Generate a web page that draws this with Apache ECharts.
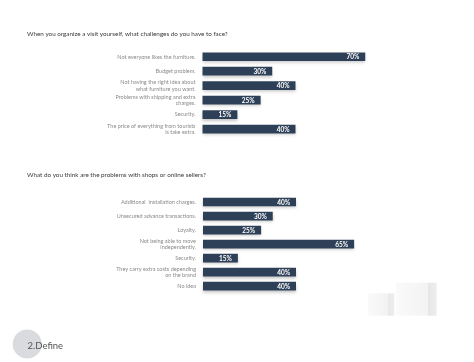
<!DOCTYPE html>
<html>
<head>
<meta charset="utf-8">
<script src="https://cdn.jsdelivr.net/npm/echarts@6/dist/echarts.min.js"></script>
<style>
html,body{margin:0;padding:0;background:#fff;}
#c{width:474px;height:362px;}
</style>
</head>
<body>
<div id="c"></div>
<script>
var title1 = 'When you organize a visit yourself, what challenges do you have to face?';
var cats1 = ['Not everyone likes the furniture.', 'Budget problem.', 'Not having the right idea about\nwhat furniture you want.', 'Problems with shipping and extra\ncharges.', 'Security.', 'The price of everything from tourists\nis take extra.'];
var vals1 = [70, 30, 40, 25, 15, 40];

var title2 = 'What do you think are the problems with shops or online sellers?';
var cats2 = ['Additional  installation charges.', 'Unsecured advance transactions.', 'Loyalty.', 'Not being able to move\nindependently.', 'Security.', 'They carry extra costs depending\non the brand', 'No idea'];
var vals2 = [40, 30, 25, 65, 15, 40, 40];

var sectionLabel = '2.Define';

var FONT = 'Lato, "Open Sans", sans-serif';
var BAR = '#2e4057';

var chart = echarts.init(document.getElementById('c'), null, {renderer: 'canvas'});

function catAxis(idx, data) {
  return {
    type: 'category', gridIndex: idx, data: data, inverse: true,
    axisLine: {show: false}, axisTick: {show: false},
    axisLabel: {color: '#8a8a8a', fontSize: 5.5, lineHeight: 6.5, margin: 7, fontFamily: FONT, align: 'right'}
  };
}
function valAxis(idx) {
  return {
    type: 'value', gridIndex: idx, min: 0, max: 100,
    show: false, splitLine: {show: false}
  };
}
function barSeries(idx, data) {
  return {
    type: 'bar', xAxisIndex: idx, yAxisIndex: idx, data: data,
    barWidth: 8.7,
    itemStyle: {color: BAR, shadowBlur: 3, shadowColor: 'rgba(0,0,0,0.22)', shadowOffsetY: 2},
    label: {show: true, position: 'insideRight', offset: [-1, 0.5], formatter: '{c}%', color: '#fff', fontSize: 6.5, fontWeight: 'bold', fontFamily: FONT}
  };
}

chart.setOption({
  backgroundColor: '#ffffff',
  animation: false,
  grid: [
    {left: 202.5, right: 39, top: 49.5, height: 86.8},
    {left: 203, right: 38.5, top: 195, height: 98.2}
  ],
  xAxis: [valAxis(0), valAxis(1)],
  yAxis: [catAxis(0, cats1), catAxis(1, cats2)],
  series: [barSeries(0, vals1), barSeries(1, vals2)],
  graphic: [
    {type: 'text', left: 27, top: 30.5, style: {text: title1, fill: '#3a3a3a', font: '6.3px ' + FONT}},
    {type: 'text', left: 27, top: 172, style: {text: title2, fill: '#3a3a3a', font: '6.3px ' + FONT}},
    {type: 'rect', shape: {x: 367.7, y: 293.3, width: 26.6, height: 22.4},
      style: {fill: new echarts.graphic.LinearGradient(0, 0, 1, 0, [{offset: 0, color: '#fafafa'}, {offset: 0.75, color: '#f2f2f2'}, {offset: 0.76, color: '#e8e8e8'}, {offset: 1, color: '#ededed'}])}},
    {type: 'rect', shape: {x: 396, y: 282.7, width: 40.7, height: 33},
      style: {fill: new echarts.graphic.LinearGradient(0, 0, 1, 0, [{offset: 0, color: '#fafafa'}, {offset: 0.78, color: '#f3f3f3'}, {offset: 0.79, color: '#e6e6e6'}, {offset: 1, color: '#eeeeee'}])}},
    {type: 'circle', shape: {cx: 27.2, cy: 344, r: 14.5}, style: {fill: '#d9dbdf'}},
    {type: 'text', left: 27.5, top: 340.5, style: {text: sectionLabel, fill: '#555', font: '9.5px ' + FONT}}
  ]
});
</script>
</body>
</html>
